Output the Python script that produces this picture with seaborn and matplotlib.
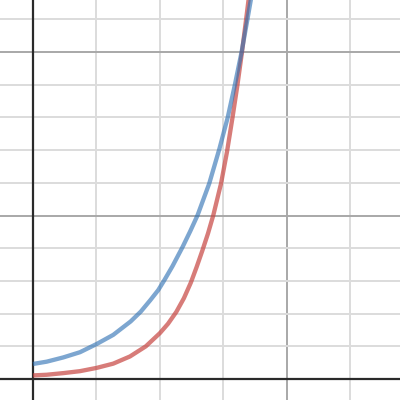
"""
Two growth curves on a graph-paper style grid (no tick labels).
"""

import pandas as pd
import matplotlib
matplotlib.use("Agg")
import matplotlib.pyplot as plt
from matplotlib.ticker import MultipleLocator
import seaborn as sns

# values
blue_x = [0.0, 0.108, 0.239, 0.371, 0.502, 0.633, 0.77, 0.85, 0.925, 0.988,
          1.037, 1.10, 1.18, 1.24, 1.298, 1.39, 1.47, 1.535, 1.59, 1.645,
          1.69, 1.718]
blue_y = [0.46, 0.53, 0.66, 0.82, 1.07, 1.35, 1.76, 2.06, 2.41, 2.72,
          3.03, 3.45, 4.04, 4.52, 5.01, 5.98, 7.04, 7.99, 8.96, 10.0,
          10.98, 11.6]

red_x = [0.0, 0.108, 0.239, 0.371, 0.502, 0.633, 0.765, 0.89, 1.0, 1.065,
         1.13, 1.19, 1.245, 1.29, 1.335, 1.38, 1.422, 1.483, 1.53, 1.573,
         1.611, 1.648, 1.68, 1.70]
red_y = [0.11, 0.13, 0.18, 0.24, 0.34, 0.47, 0.69, 1.0, 1.40, 1.69,
         2.05, 2.47, 2.95, 3.42, 3.92, 4.45, 5.01, 5.98, 6.95, 7.99,
         8.96, 10.0, 10.98, 11.6]

X_LIM = (-0.26, 2.894)
Y_LIM = (-0.642, 11.59)

df_blue = pd.DataFrame({"x": blue_x, "y": blue_y})
df_red = pd.DataFrame({"x": red_x, "y": red_y})

sns.set_style("white")

fig = plt.figure(figsize=(4, 4), dpi=100)
ax = fig.add_axes([0, 0, 1, 1])

# grid: minor every 0.5 / 1, major every 2 / 5
ax.xaxis.set_major_locator(MultipleLocator(2))
ax.xaxis.set_minor_locator(MultipleLocator(0.5))
ax.yaxis.set_major_locator(MultipleLocator(5))
ax.yaxis.set_minor_locator(MultipleLocator(1))
ax.grid(True, which="minor", color="#dcdcdc", linewidth=1.4)
ax.grid(True, which="major", color="#a8a8a8", linewidth=1.4)
ax.set_axisbelow(True)

ax.axhline(0, color="#2a2a2a", linewidth=1.6, zorder=1.5)
ax.axvline(0, color="#2a2a2a", linewidth=1.6, zorder=1.5)

line_kw = dict(linewidth=3.1, sort=False, solid_joinstyle="round",
               solid_capstyle="butt")
sns.lineplot(data=df_red, x="x", y="y", ax=ax, color="#c74440", alpha=0.7,
             zorder=3, **line_kw)
sns.lineplot(data=df_blue, x="x", y="y", ax=ax, color="#2d70b3", alpha=0.62,
             zorder=4, **line_kw)

ax.set_xlim(*X_LIM)
ax.set_ylim(*Y_LIM)
ax.tick_params(which="both", length=0, labelbottom=False, labelleft=False)
ax.set_xlabel("")
ax.set_ylabel("")
for spine in ax.spines.values():
    spine.set_visible(False)

fig.savefig("out.png", dpi=100)
plt.close(fig)
